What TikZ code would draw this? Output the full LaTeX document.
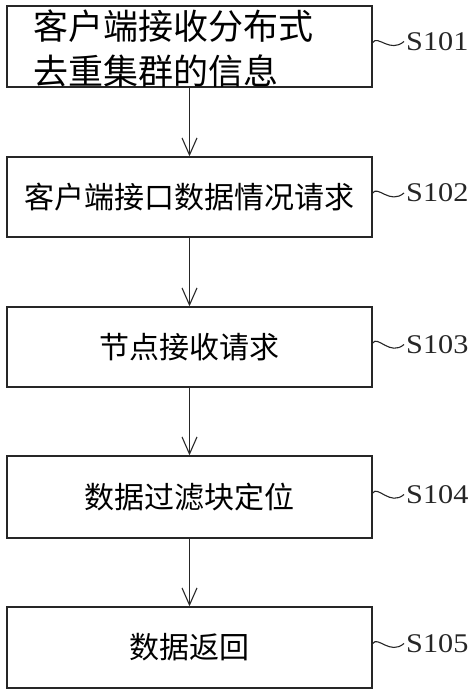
\documentclass[tikz,border=0pt]{standalone}
\usepackage{fontspec}
\newfontfamily\cjk{Noto Sans CJK SC}
\newfontfamily\lbl[FakeStretch=1.12]{Liberation Serif}
\usetikzlibrary{arrows.meta}
\begin{document}
\begin{tikzpicture}[x=1pt,y=-1pt,
  stepbox/.style={draw=black!85,line width=1.4pt,minimum width=365pt,inner sep=0pt,font=\cjk\fontsize{30pt}{36pt}\selectfont},
  steplbl/.style={anchor=west,inner sep=0pt,font=\lbl\fontsize{27pt}{30pt}\selectfont,text=black!85},
  flow/.style={draw=black!85,line width=1.3pt,-{Straight Barb[length=17pt,width=15pt,line width=1.1pt]}},
  wave/.style={draw=black!85,line width=1.1pt}]
\useasboundingbox (0,0) rectangle (474,695);
\node[stepbox,minimum height=81pt] (b1) at (189.5,46.5) {};
\node[anchor=west,inner sep=0pt,align=left,font=\cjk\fontsize{35pt}{45pt}\selectfont] (t1) at (33,49) {客户端接收分布式\\去重集群的信息};
\node[stepbox,minimum height=80pt] (b2) at (189.5,197) {客户端接口数据情况请求};
\node[stepbox,minimum height=80pt] (b3) at (189.5,347) {节点接收请求};
\node[stepbox,minimum height=82pt] (b4) at (189.5,497) {数据过滤块定位};
\node[stepbox,minimum height=81pt] (b5) at (189.5,647.5) {数据返回};
\node[steplbl] (l1) at (406,41.5) {S101};
\node[steplbl] (l2) at (406,193) {S102};
\node[steplbl] (l3) at (406,344.5) {S103};
\node[steplbl] (l4) at (406,494.5) {S104};
\node[steplbl] (l5) at (406,643.5) {S105};
\foreach \i in {1,...,5}{
  \draw[wave] ([yshift=4pt]b\i.east) .. controls +(5,-8) and +(-14,12) .. ([xshift=-2pt]l\i.west);
}
\draw[flow] (b1.south) -- (b2.north);
\draw[flow] (b2.south) -- (b3.north);
\draw[flow] (b3.south) -- (b4.north);
\draw[flow] (b4.south) -- (b5.north);
\end{tikzpicture}
\end{document}
